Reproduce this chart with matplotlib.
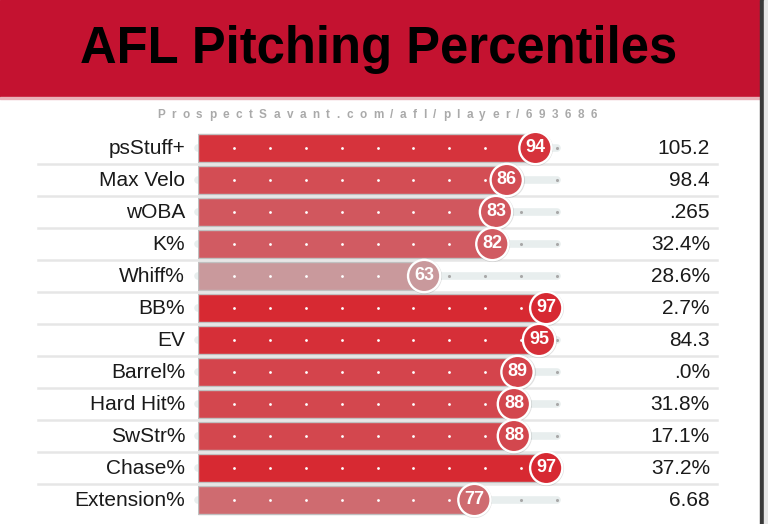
import numpy as np
import matplotlib
matplotlib.use('Agg')
import matplotlib.pyplot as plt
import matplotlib.patches as mpatches
import matplotlib.transforms as mtransforms
from matplotlib.colors import LinearSegmentedColormap

# ── data ──────────────────────────────────────────────────────────────────────
TITLE    = 'AFL Pitching Percentiles'
SUBTITLE = 'ProspectSavant.com/afl/player/693686'
METRICS = ['psStuff+', 'Max Velo', 'wOBA', 'K%', 'Whiff%', 'BB%', 'EV',
           'Barrel%', 'Hard Hit%', 'SwStr%', 'Chase%', 'Extension%']
PERCENTILES = [94, 86, 83, 82, 63, 97, 95, 89, 88, 88, 97, 77]
STAT_VALUES = ['105.2', '98.4', '.265', '32.4%', '28.6%', '2.7%', '84.3',
               '.0%', '31.8%', '17.1%', '37.2%', '6.68']
TICK_DOTS = [10, 20, 30, 40, 50, 60, 70, 80, 90, 100]

# ── aesthetics ────────────────────────────────────────────────────────────────
FONT = 'Liberation Sans'
BAND_RED = '#c41230'
CMAP = LinearSegmentedColormap.from_list(
    'savant', ['#3661ad', '#c4c4c4', '#d8202a'])

W, H = 768, 524
fig = plt.figure(figsize=(W / 100, H / 100), dpi=100)
fig.patch.set_facecolor('white')
plt.rcParams['font.family'] = [FONT, 'DejaVu Sans']

# header band + right frame edge
fig.patches.append(mpatches.Rectangle((0, 1 - 97 / H), 760 / W, 97 / H,
                                      transform=fig.transFigure,
                                      color=BAND_RED, zorder=0))
fig.patches.append(mpatches.Rectangle((0, 1 - 98.5 / H), 760 / W, 1.5 / H,
                                      transform=fig.transFigure,
                                      color='#eab0b8', zorder=0))
fig.patches.append(mpatches.Rectangle((760 / W, 0), 4 / W, 1,
                                      transform=fig.transFigure,
                                      color='#3a3a3a', zorder=0))
fig.patches.append(mpatches.Rectangle((764 / W, 0), 4 / W, 1,
                                      transform=fig.transFigure,
                                      color='#e6e6e6', zorder=0))

fig.text(379 / W, 1 - 49 / H, TITLE, ha='center', va='center',
         fontsize=36.5, fontweight='bold', color='black')

# letter-spaced subtitle, one glyph at a time
renderer = fig.canvas.get_renderer()
glyphs = [fig.text(0, 1 - 115 / H, ch, ha='left', va='center', fontsize=8.5,
                   fontweight='bold', color='#aaaaaa') for ch in SUBTITLE]
widths = [g.get_window_extent(renderer).width for g in glyphs]
span = 440
gap = (span - sum(widths)) / (len(glyphs) - 1)
cursor = 157
for g, w in zip(glyphs, widths):
    g.set_x(cursor / W)
    cursor += w + gap

# ── bar area ──────────────────────────────────────────────────────────────────
left_px, right_px = 198, 557
top_px, bottom_px = 132, 516
ax = fig.add_axes([left_px / W, 1 - bottom_px / H,
                   (right_px - left_px) / W, (bottom_px - top_px) / H])
ax.set_xlim(0, 100)
n = len(METRICS)
ax.set_ylim(n - 0.5, -0.5)
ax.axis('off')

rows = np.arange(n)
colors = [CMAP(p / 100) for p in PERCENTILES]

# row separators
for y in rows[:-1] + 0.5:
    ax.axhline(y, xmin=-0.446, xmax=1.446, color='#e6e6e6', lw=1.8,
               clip_on=False, zorder=0)

# background tracks
for y in rows:
    ax.plot([0, 100], [y, y], color='#e8eeee', lw=5.5,
            solid_capstyle='round', zorder=1, clip_on=False)

ax.barh(rows, PERCENTILES, height=0.9, color=colors,
        edgecolor='#c0c0c0', linewidth=1, zorder=2)

# tick dots
for y, p in zip(rows, PERCENTILES):
    dot_x = np.array(TICK_DOTS)
    inside = dot_x < p
    ax.scatter(dot_x[inside], [y] * inside.sum(), s=4, color='white',
               zorder=3, linewidths=0)
    ax.scatter(dot_x[~inside], [y] * (~inside).sum(), s=5, color='#a8a8a8',
               zorder=3, linewidths=0, clip_on=False)

# percentile circles
ax.scatter(PERCENTILES, rows, s=640, color='#000000', alpha=0.12,
           linewidths=0, zorder=4, clip_on=False)
ax.scatter(PERCENTILES, rows, s=540, color=colors, edgecolor='white',
           linewidths=1.7, zorder=5, clip_on=False)
for y, p in zip(rows, PERCENTILES):
    ax.text(p, y, str(p), ha='center', va='center', color='white',
            fontsize=13, fontweight='bold', zorder=6, clip_on=False)

# metric labels and raw values
trans = mtransforms.blended_transform_factory(ax.transAxes, ax.transData)
for y, name, val in zip(rows, METRICS, STAT_VALUES):
    ax.text(-0.036, y, name, transform=trans, ha='right', va='center',
            fontsize=15, color='#1a1a1a', clip_on=False)
    ax.text(1.426, y, val, transform=trans, ha='right', va='center',
            fontsize=15, color='#1a1a1a', clip_on=False)

fig.savefig('out.png', dpi=100)
plt.close(fig)
